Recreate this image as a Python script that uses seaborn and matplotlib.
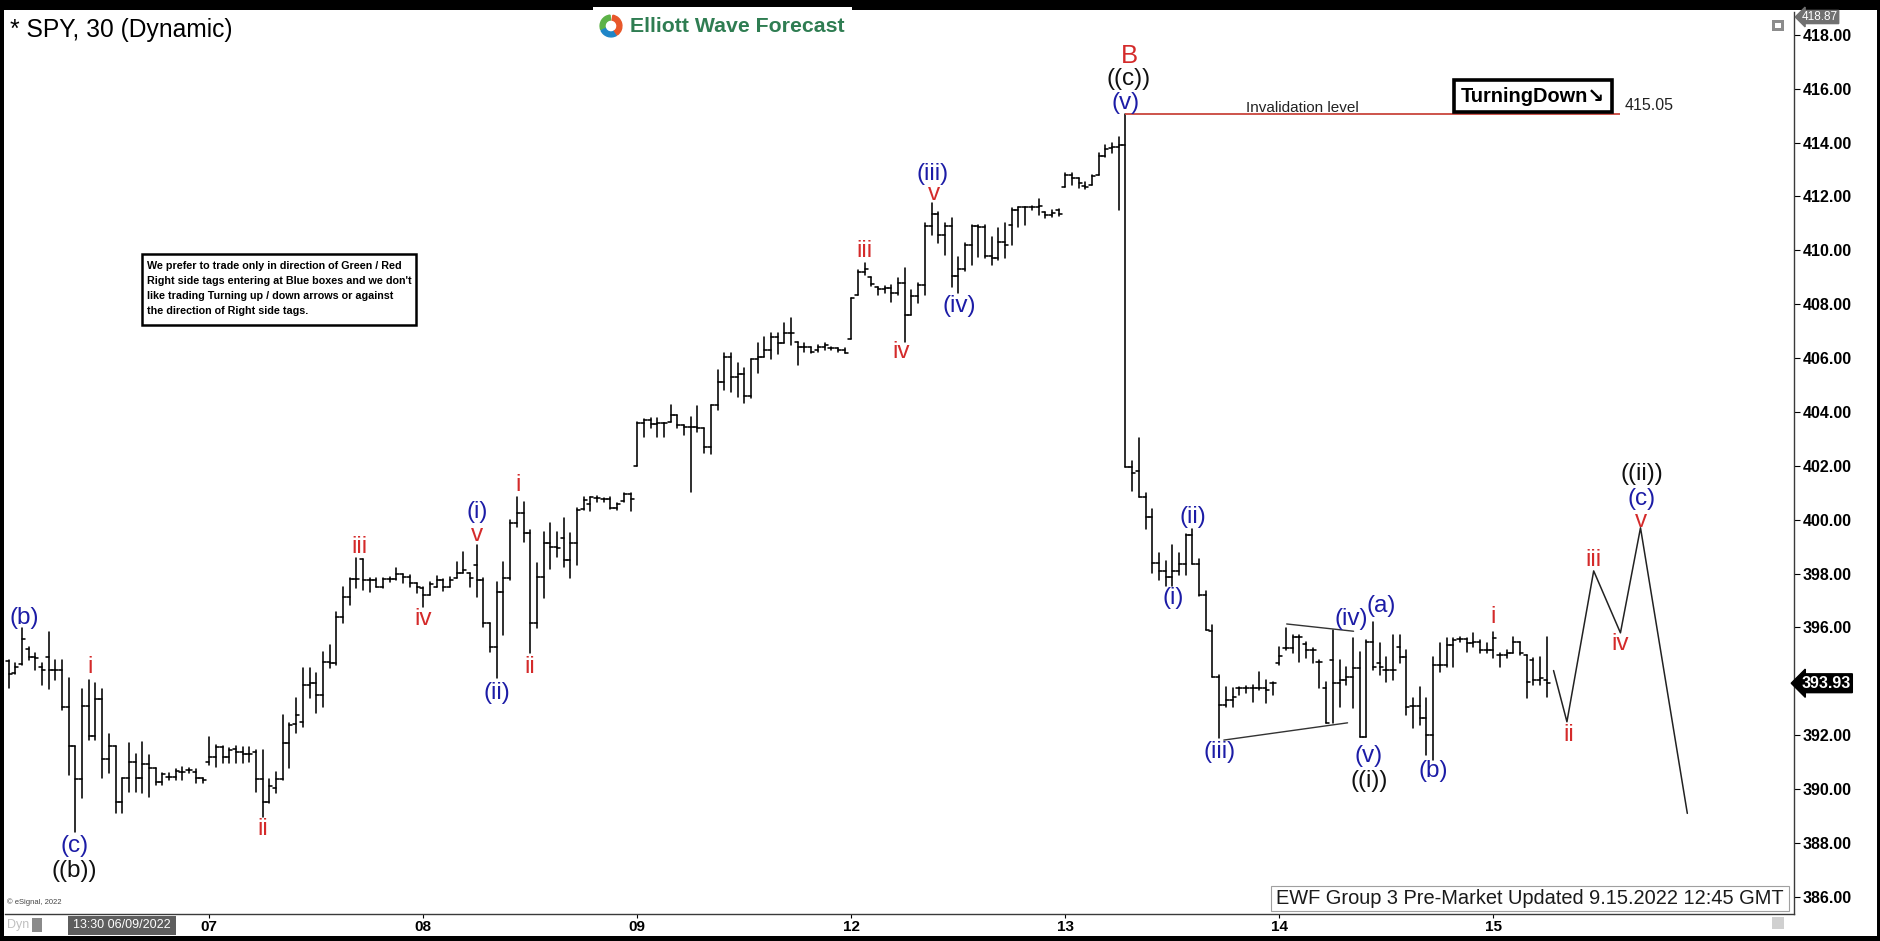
import numpy as np
import pandas as pd
import matplotlib
matplotlib.use("Agg")
import matplotlib.pyplot as plt
import matplotlib.transforms as mtransforms
import seaborn as sns
from matplotlib import font_manager
from matplotlib.patches import Rectangle, Wedge

sns.set_theme(style="white")
_names = {f.name for f in font_manager.fontManager.ttflist}
BASE = "Liberation Sans" if "Liberation Sans" in _names else "DejaVu Sans"
NARROW = "Liberation Sans Narrow" if "Liberation Sans Narrow" in _names else BASE
plt.rcParams['font.family'] = [BASE, 'DejaVu Sans']

# ---------------- data (30-min bars, index = bar slot, 32 slots per day) -------------
bar_index = list(range(2, 233))
opens = [394.76, 394.30, 394.65, 395.20, 394.92, 394.55, 394.92, 394.42, 394.42, 393.06,
         391.61, 390.38, 393.09, 391.97, 393.35, 391.11, 391.61, 389.51, 390.40, 391.02,
         390.40, 390.92, 390.77, 390.28, 390.46, 390.46, 390.65, 390.71, 390.65, 390.40,
         390.99, 391.20, 391.58, 391.20, 391.49, 391.39, 391.30, 391.39, 390.38, 389.51,
         390.03, 390.38, 391.70, 392.40, 392.50, 393.86, 393.93, 393.49, 394.73, 394.67,
         396.40, 397.14, 397.79, 398.54, 397.76, 397.76, 397.51, 397.79, 397.79, 397.97,
         397.89, 397.64, 397.45, 397.20, 397.51, 397.76, 397.51, 397.85, 398.01, 398.01,
         398.32, 397.76, 396.15, 395.29, 397.33, 397.82, 399.87, 400.24, 399.50, 396.15,
         397.89, 399.15, 399.00, 399.31, 398.50, 399.15, 400.39, 400.60, 400.80, 400.76,
         400.76, 400.42, 400.70, 400.96, 401.99, 403.60, 403.70, 403.55, 403.58, 403.64,
         403.89, 403.52, 403.45, 403.45, 403.39, 402.71, 404.26, 405.12, 406.05, 405.30,
         405.40, 404.60, 405.95, 406.05, 406.30, 406.80, 406.55, 406.92, 406.61, 406.42,
         406.42, 406.30, 406.42, 406.36, 406.36, 406.30, 406.70, 408.34, 409.21, 409.02,
         408.65, 408.55, 408.60, 408.40, 408.80, 407.60, 408.30, 408.70, 410.90, 411.35,
         410.57, 410.90, 409.05, 409.30, 410.20, 410.90, 410.85, 409.80, 409.70, 410.30,
         410.94, 411.50, 411.60, 411.60, 411.62, 411.44, 411.30, 411.50, 412.36, 412.80,
         412.67, 412.40, 412.42, 412.80, 413.50, 413.80, 413.85, 413.90, 401.95, 401.79,
         400.86, 400.10, 398.41, 398.08, 397.88, 398.08, 398.35, 399.43, 398.37, 397.22,
         395.87, 394.17, 393.12, 393.31, 393.74, 393.74, 393.74, 393.74, 393.74, 393.93,
         394.67, 395.23, 395.23, 395.66, 395.40, 395.16, 394.73, 393.74, 394.79, 393.93,
         394.05, 394.17, 394.48, 391.95, 395.47, 394.67, 394.42, 394.42, 395.29, 394.92,
         393.09, 393.09, 392.63, 392.01, 394.61, 394.61, 395.35, 395.56, 395.56, 395.41,
         395.47, 395.16, 395.16, 394.98, 394.98, 395.04, 395.47, 394.98, 394.79, 394.05,
         394.05]
highs = [394.79, 394.69, 395.97, 395.29, 395.04, 394.67, 395.82, 394.79, 394.79, 394.11,
         391.61, 393.70, 394.05, 393.93, 393.70, 392.03, 391.61, 390.40, 391.72, 391.29,
         391.76, 391.27, 390.77, 390.59, 390.61, 390.73, 390.83, 390.77, 390.73, 390.40,
         391.95, 391.64, 391.61, 391.51, 391.61, 391.58, 391.58, 391.45, 391.45, 390.38,
         390.65, 392.75, 392.44, 393.37, 394.48, 394.48, 394.30, 395.10, 395.35, 396.59,
         397.51, 397.82, 398.57, 398.54, 397.82, 397.82, 397.82, 397.86, 398.20, 397.97,
         397.95, 397.64, 397.49, 397.70, 397.91, 397.79, 397.86, 398.44, 398.81, 398.01,
         399.06, 397.82, 396.15, 397.70, 398.44, 399.99, 400.86, 400.67, 399.62, 398.38,
         399.56, 399.87, 399.56, 400.05, 399.50, 400.42, 400.86, 400.86, 400.88, 400.80,
         400.83, 400.61, 400.98, 401.00, 403.64, 403.73, 403.76, 403.76, 403.58, 404.26,
         403.89, 403.52, 403.80, 404.22, 403.39, 404.26, 405.56, 406.18, 406.18, 405.81,
         405.62, 405.95, 406.57, 406.80, 406.92, 406.92, 407.29, 407.48, 406.61, 406.55,
         406.42, 406.49, 406.55, 406.42, 406.36, 406.36, 408.22, 409.27, 409.52, 409.02,
         408.65, 408.67, 408.71, 408.96, 409.33, 408.53, 408.77, 411.00, 411.74, 411.44,
         411.00, 411.19, 409.76, 410.26, 410.94, 410.94, 410.94, 410.51, 410.82, 411.00,
         411.56, 411.62, 411.62, 411.65, 411.89, 411.44, 411.50, 411.52, 412.86, 412.86,
         412.67, 412.55, 412.80, 413.60, 413.91, 413.97, 414.22, 415.05, 402.19, 403.05,
         401.00, 400.40, 398.77, 398.48, 399.07, 398.77, 399.47, 399.67, 398.54, 397.35,
         396.09, 394.24, 393.80, 393.74, 393.80, 393.83, 393.86, 394.36, 394.05, 393.99,
         395.29, 395.97, 395.72, 395.72, 395.47, 395.23, 394.79, 393.99, 395.91, 394.79,
         394.55, 395.60, 395.10, 395.54, 396.22, 395.41, 394.92, 395.72, 395.72, 395.16,
         393.37, 393.80, 393.37, 394.92, 395.41, 395.60, 395.60, 395.66, 395.60, 395.81,
         395.54, 395.41, 395.84, 395.04, 395.16, 395.66, 395.47, 394.98, 394.85, 394.92,
         395.66]
lows = [393.74, 394.27, 394.61, 394.79, 394.42, 393.86, 393.70, 394.05, 392.94, 390.52,
        388.42, 389.66, 391.82, 391.82, 390.40, 390.61, 389.10, 389.10, 389.91, 389.91,
        389.87, 389.70, 390.15, 390.15, 390.34, 390.34, 390.34, 390.59, 390.24, 390.24,
        390.90, 390.83, 390.96, 390.96, 390.96, 390.96, 391.02, 389.91, 388.98, 389.47,
        389.84, 390.34, 390.77, 392.07, 392.32, 393.37, 392.81, 393.06, 394.48, 394.61,
        396.15, 396.83, 397.45, 397.39, 397.33, 397.51, 397.45, 397.70, 397.76, 397.64,
        397.51, 397.29, 396.77, 397.20, 397.49, 397.37, 397.49, 397.82, 398.01, 397.49,
        397.14, 396.03, 395.10, 394.11, 395.72, 397.76, 399.74, 399.18, 395.04, 395.97,
        397.08, 398.16, 398.63, 398.26, 397.82, 398.32, 400.36, 400.34, 400.67, 400.67,
        400.39, 400.36, 400.67, 400.34, 401.99, 403.08, 403.39, 403.08, 403.08, 403.64,
        403.39, 403.14, 401.04, 403.27, 402.47, 402.44, 404.07, 404.82, 404.75, 404.57,
        404.32, 404.51, 405.43, 406.05, 405.95, 406.15, 406.55, 406.49, 405.74, 406.24,
        406.18, 406.24, 406.30, 406.30, 406.24, 406.18, 406.70, 408.34, 409.08, 408.67,
        408.34, 408.40, 408.09, 408.34, 406.61, 407.60, 408.03, 408.34, 410.57, 410.26,
        409.83, 408.65, 408.40, 409.25, 409.45, 409.76, 409.70, 409.45, 409.65, 409.70,
        410.20, 410.88, 410.94, 411.50, 411.31, 411.19, 411.22, 411.27, 412.36, 412.42,
        412.30, 412.26, 412.42, 412.80, 413.48, 413.60, 411.50, 401.95, 401.06, 400.84,
        399.67, 398.01, 397.75, 397.55, 397.55, 397.95, 397.95, 398.37, 397.15, 395.89,
        394.17, 391.89, 393.06, 393.06, 393.49, 393.56, 393.25, 393.68, 393.18, 393.49,
        394.61, 395.16, 395.04, 394.73, 394.85, 394.67, 393.74, 392.44, 392.44, 393.06,
        393.86, 393.00, 391.95, 391.95, 394.42, 394.24, 393.99, 394.05, 394.67, 392.75,
        392.26, 392.38, 391.27, 391.08, 394.36, 394.55, 394.55, 395.47, 395.10, 395.29,
        395.04, 395.04, 394.85, 394.55, 394.85, 395.04, 394.98, 393.37, 393.86, 393.86,
        393.43]
closes = [394.27, 394.55, 395.56, 394.92, 394.85, 394.42, 394.42, 394.42, 393.06, 391.61,
          390.38, 393.09, 391.97, 393.35, 391.11, 391.61, 389.51, 390.40, 391.02, 390.40,
          390.92, 390.77, 390.28, 390.56, 390.46, 390.69, 390.65, 390.71, 390.40, 390.34,
          391.20, 391.58, 391.20, 391.45, 391.39, 391.30, 391.30, 390.38, 389.51, 390.13,
          390.38, 391.70, 392.38, 392.75, 393.86, 393.93, 393.49, 394.73, 394.67, 396.40,
          397.14, 397.79, 397.79, 397.76, 397.76, 397.51, 397.81, 397.79, 397.97, 397.89,
          397.64, 397.51, 397.20, 397.60, 397.76, 397.51, 397.76, 398.01, 398.13, 397.82,
          397.76, 396.15, 395.29, 397.33, 397.82, 399.87, 400.24, 399.50, 396.15, 397.89,
          399.15, 399.00, 398.94, 398.50, 399.15, 400.36, 400.73, 400.83, 400.80, 400.76,
          400.42, 400.58, 400.96, 400.76, 403.60, 403.70, 403.55, 403.60, 403.58, 403.89,
          403.52, 403.45, 403.45, 403.39, 402.71, 404.26, 405.12, 406.05, 405.30, 405.40,
          404.60, 405.95, 406.05, 406.30, 406.80, 406.55, 406.92, 406.92, 406.42, 406.42,
          406.24, 406.42, 406.49, 406.36, 406.30, 406.18, 408.22, 409.21, 409.30, 408.75,
          408.55, 408.60, 408.40, 408.80, 407.60, 408.30, 408.70, 410.90, 411.35, 410.57,
          410.90, 409.05, 409.30, 410.20, 410.90, 410.85, 409.80, 409.70, 410.30, 410.20,
          411.50, 411.60, 411.62, 411.60, 411.65, 411.30, 411.40, 411.35, 412.80, 412.70,
          412.50, 412.36, 412.75, 413.50, 413.75, 413.85, 413.90, 401.95, 401.73, 400.86,
          400.10, 398.41, 398.08, 397.88, 398.08, 398.35, 399.43, 398.37, 397.22, 395.89,
          394.17, 393.12, 393.31, 393.43, 393.74, 393.74, 393.74, 393.74, 393.68, 393.93,
          394.95, 395.23, 395.66, 395.66, 395.16, 395.16, 394.73, 392.44, 393.93, 394.05,
          394.17, 394.48, 391.95, 395.47, 394.55, 394.55, 394.42, 394.42, 394.92, 393.06,
          393.09, 392.63, 392.01, 394.61, 394.61, 395.35, 395.54, 395.56, 395.41, 395.47,
          395.16, 395.16, 395.60, 394.98, 395.04, 395.47, 395.04, 393.99, 394.05, 394.11,
          393.93]

day_ticks = [32, 64, 96, 128, 160, 192, 224]
day_labels = ["07", "08", "09", "12", "13", "14", "15"]
price_ticks = list(range(386, 419, 2))
last_price = 393.93
top_price = 418.87
invalidation = 415.05

# projected path (bar slot, price)
proj_x = [233, 235, 239, 243, 246, 253]
proj_y = [394.4, 392.5, 398.1, 395.8, 399.7, 389.1]
# (iv) triangle lines
tri_up_x, tri_up_y = [193.1, 203.1], [396.13, 395.86]
tri_lo_x, tri_lo_y = [183.7, 202.2], [391.82, 392.46]

BLUE, RED, BLACK = "#1c1ca6", "#d42a2a", "#111111"
wave_labels = [
    ("(b)", 4.3, 396.35, BLUE), ("(c)", 11.8, 387.89, BLUE), ("((b))", 11.8, 386.95, BLACK),
    ("i", 14.2, 394.53, RED), ("ii", 40.0, 388.51, RED), ("iii", 54.4, 398.98, RED),
    ("iv", 64.0, 396.31, RED), ("(i)", 72.0, 400.27, BLUE), ("v", 72.1, 399.43, RED),
    ("(ii)", 75.0, 393.55, BLUE), ("i", 78.2, 401.30, RED), ("ii", 79.9, 394.53, RED),
    ("iii", 129.9, 409.98, RED), ("iv", 135.5, 406.24, RED), ("(iii)", 140.1, 412.83, BLUE),
    ("v", 140.3, 412.08, RED), ("(iv)", 144.1, 407.93, BLUE), ("B", 169.6, 417.2, RED),
    ("((c))", 169.4, 416.35, BLACK), ("(v)", 169.0, 415.46, BLUE), ("(i)", 176.2, 397.11, BLUE),
    ("(ii)", 179.1, 400.09, BLUE), ("(iii)", 183.0, 391.36, BLUE), ("(iv)", 202.8, 396.31, BLUE),
    ("(a)", 207.3, 396.80, BLUE), ("(v)", 205.3, 391.23, BLUE), ("((i))", 205.5, 390.29, BLACK),
    ("(b)", 215.0, 390.69, BLUE), ("i", 224.0, 396.40, RED), ("ii", 235.2, 391.99, RED),
    ("iii", 239.0, 398.49, RED), ("iv", 243.0, 395.37, RED), ("((ii))", 246.2, 401.70, BLACK),
    ("(c)", 246.2, 400.76, BLUE), ("v", 246.0, 399.96, RED),
]

# ---------------- figure ----------------
W, H = 1881, 941
fig = plt.figure(figsize=(W / 100, H / 100), dpi=100, facecolor="black")
renderer = fig.canvas.get_renderer()


def fx(px):
    return px / W


def fy(py):
    return 1 - py / H


def frect(x0, y0, x1, y1, **kw):
    r = Rectangle((fx(x0), fy(y1)), fx(x1) - fx(x0), fy(y0) - fy(y1),
                  transform=fig.transFigure, **kw)
    fig.add_artist(r)
    return r


def fit(t, target):
    w = t.get_window_extent(renderer).width
    t.set_fontsize(t.get_fontsize() * target / w)
    return t


# white page inside black frame
frect(4, 10, 1877, 936, facecolor="white", edgecolor="none", zorder=-2)

ax = fig.add_axes([fx(5), fy(914), fx(1794) - fx(5), fy(12) - fy(914)])
ax.set_facecolor("white")

# OHLC bars drawn through seaborn (one unit per stroke)
rows = []
for k, i in enumerate(bar_index):
    rows += [(i, lows[k], 3 * k), (i, highs[k], 3 * k),
             (i - 0.45, opens[k], 3 * k + 1), (i, opens[k], 3 * k + 1),
             (i, closes[k], 3 * k + 2), (i + 0.45, closes[k], 3 * k + 2)]
bars = pd.DataFrame(rows, columns=["slot", "price", "stroke"])
sns.lineplot(data=bars, x="slot", y="price", units="stroke", estimator=None, sort=False,
             color="black", lw=1.15, ax=ax, legend=False)

# projection & triangle
sns.lineplot(x=proj_x, y=proj_y, sort=False, color="#222222", lw=1.1, ax=ax)
sns.lineplot(x=tri_up_x, y=tri_up_y, sort=False, color="#333333", lw=1.0, ax=ax)
sns.lineplot(x=tri_lo_x, y=tri_lo_y, sort=False, color="#333333", lw=1.0, ax=ax)

# invalidation level
ax.hlines(invalidation, 169, 243, color="#c9453d", lw=1.3)
t = ax.text(187.0, 415.28, "Invalidation level", fontsize=10.5, color="#222222", ha="left", va="center")
fit(t, 114)
ax.text(243.7, 415.37, f"{invalidation:.2f}", fontsize=11.5, color="#222222", ha="left", va="center")

for s, xi, yv, c in wave_labels:
    ax.text(xi, yv, s, color=c, fontsize=18.5 if s == "B" else 17.5, ha="center", va="center")

ax.set_xlim(1.47, 268.95)
ax.set_ylim(385.364, 418.846)
ax.set_xlabel("")
ax.set_ylabel("")
for side in ("top", "left"):
    ax.spines[side].set_visible(False)
for side in ("right", "bottom"):
    ax.spines[side].set_visible(True)
    ax.spines[side].set_color("#3a3a3a")
    ax.spines[side].set_linewidth(1.0)

ax.set_yticks(price_ticks)
ax.set_yticklabels([f"{v:.2f}" for v in price_ticks], fontweight="bold", fontsize=11.5)
ax.tick_params(axis="y", left=False, labelleft=False, right=True, labelright=True,
               length=4, width=0.8, pad=2, colors="black")
ax.set_xticks(day_ticks)
ax.set_xticklabels(day_labels, fontweight="bold", fontsize=12.5 if NARROW != BASE else 11,
                   family=[NARROW, "DejaVu Sans"])
ax.tick_params(axis="x", bottom=True, length=3, width=0.8, pad=1, colors="black")
ax.grid(False)

# right-side price tags
blend = mtransforms.blended_transform_factory(ax.transAxes, ax.transData)
ax.text(1.004, last_price, f"{last_price:.2f}", transform=blend, color="white", fontweight="bold",
        fontsize=11.5, ha="left", va="center", clip_on=False,
        bbox=dict(boxstyle="larrow,pad=0.12", fc="black", ec="black"))
fig.text(fx(1802), fy(17), f"{top_price:.2f}", color="white", fontsize=8.5, ha="left", va="center",
         bbox=dict(boxstyle="larrow,pad=0.05", fc="#707070", ec="#707070"))

# title
t = fig.text(fx(10), fy(30), "* SPY, 30 (Dynamic)", fontsize=16.5, color="black", ha="left", va="center")
fit(t, 222)

# logo
frect(593, 7, 852, 40, facecolor="white", edgecolor="none", zorder=-1)
lax = fig.add_axes([fx(599), fy(38), fx(623) - fx(599), fy(14) - fy(38)], zorder=6)
lax.set_xlim(-1.1, 1.1)
lax.set_ylim(-1.1, 1.1)
lax.set_aspect("equal")
lax.axis("off")
lax.add_patch(Wedge((0, 0), 1.0, 95, 200, width=0.45, color="#5cb247"))
lax.add_patch(Wedge((0, 0), 1.0, 205, 300, width=0.45, color="#1f86c8"))
lax.add_patch(Wedge((0, 0), 1.0, 305, 440, width=0.45, color="#e8572a"))
t = fig.text(fx(630), fy(26), "Elliott Wave Forecast", fontsize=15, fontweight="bold",
             color="#2f7d52", ha="left", va="center")
fit(t, 216)

# info box
frect(141.6, 254.4, 416.4, 325.2, facecolor="white", edgecolor="black", linewidth=1.8, zorder=3)
t = fig.text(fx(147), fy(261),
             "We prefer to trade only in direction of Green / Red\n"
             "Right side tags entering at Blue boxes and we don't\n"
             "like trading Turning up / down arrows or against\n"
             "the direction of Right side tags.",
             fontsize=7, fontweight="bold", color="black", ha="left", va="top",
             linespacing=1.62, zorder=4)
fit(t, 266)

# Turning Down box
frect(1454, 80, 1612, 112, facecolor="white", edgecolor="black", linewidth=2.6, zorder=3)
t = fig.text(fx(1533), fy(96), "TurningDown\u2198", fontsize=13.5, fontweight="bold",
             family=[BASE, "DejaVu Sans"], color="black", ha="center", va="center", zorder=4)
fit(t, 144)

# bottom-right update text
t = fig.text(fx(1530), fy(898), "EWF Group 3 Pre-Market Updated 9.15.2022 12:45 GMT",
             fontsize=15, color="#1a1a1a", ha="center", va="center",
             family=[NARROW, "DejaVu Sans"], zorder=4)
fit(t, 508)
frect(1271, 886, 1789, 911, facecolor="white", edgecolor="#a0a0a0", linewidth=0.8, zorder=3)

# small footer items
fig.text(fx(7), fy(902), "\u00a9 eSignal, 2022", fontsize=5.5, color="#444444", ha="left", va="center")
fig.text(fx(7), fy(925), "Dyn", fontsize=9, color="#c0c0c0", ha="left", va="center")
frect(32, 918, 42, 932, facecolor="#8a8a8a", edgecolor="none")
t = fig.text(fx(122), fy(925), "13:30 06/09/2022", fontsize=10, color="white", ha="center", va="center",
             family=[NARROW, "DejaVu Sans"], zorder=4)
fit(t, 98)
frect(68, 916, 176, 935, facecolor="#5e5e5e", edgecolor="none", zorder=3)

# tiny window icons
frect(1772, 20, 1784, 31, facecolor="#8c8c8c", edgecolor="none", zorder=3)
frect(1775, 23, 1781, 28, facecolor="white", edgecolor="none", zorder=4)
frect(1772, 917, 1784, 929, facecolor="#d0d0d0", edgecolor="none", zorder=3)

fig.savefig("out.png", dpi=100, facecolor="black")
